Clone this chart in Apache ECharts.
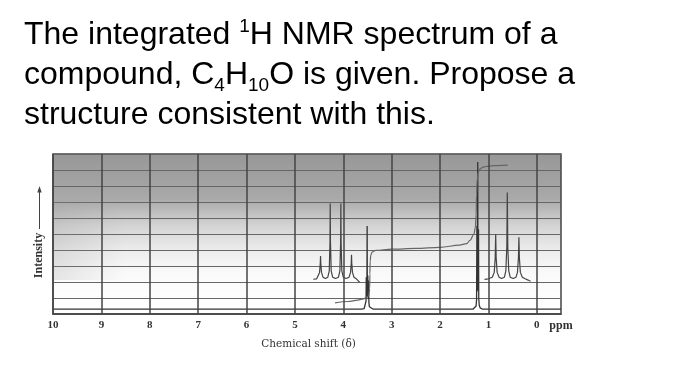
<!DOCTYPE html>
<html>
<head>
<meta charset="utf-8">
<script src="https://cdn.jsdelivr.net/npm/echarts@6/dist/echarts.min.js"></script>
<style>
  html, body { margin: 0; padding: 0; background: #ffffff; }
  #chart { width: 687px; height: 381px; }
</style>
</head>
<body>
<div id="chart"></div>
<script>
// ---- Data ----
// x axis ticks (ppm) and the unit label at the right end
var xTicks = [0, 1, 2, 3, 4, 5, 6, 7, 8, 9, 10];
var unitLabel = 'ppm';
var xAxisTitle = 'Chemical shift (δ)';
var yAxisTitle = 'Intensity';

// Main spectrum trace
var mainPpm = [10, 3.62, 3.57, 3.54, 3.53, 3.525, 3.52, 3.512, 3.507, 3.503,
               3.498, 3.493, 3.49, 3.487, 3.482, 3.478, 3.474, 3.47, 3.46, 3.44,
               3.38, 1.32, 1.28, 1.255, 1.245, 1.238, 1.232, 1.226, 1.221, 1.216,
               1.21, 1.205, 1.2, 1.19, 1.17, 1.12, -0.5];
var mainInt = [0.3, 0.3, 0.33, 0.45, 0.8, 2.3, 1.0, 1.2, 5.5, 1.3,
               1.2, 2.4, 1.3, 1.1, 2.1, 0.9, 1.2, 0.7, 0.45, 0.33,
               0.3, 0.3, 0.33, 0.5, 0.9, 5.5, 1.4, 1.5, 9.5, 1.5,
               1.4, 5.3, 1.0, 0.55, 0.38, 0.3, 0.3];

// Expanded quartet (inset)
var quartetPpm = [4.62, 4.55, 4.51, 4.49, 4.475, 4.47, 4.465, 4.45, 4.42, 4.37,
                  4.32, 4.29, 4.275, 4.27, 4.265, 4.25, 4.22, 4.16,
                  4.10, 4.07, 4.055, 4.05, 4.045, 4.03, 4.0, 3.94,
                  3.88, 3.85, 3.835, 3.83, 3.825, 3.81, 3.78, 3.73, 3.69, 3.66];
var quartetInt = [2.17, 2.2, 2.3, 2.6, 3.2, 3.63, 3.2, 2.6, 2.3, 2.22,
                  2.3, 2.7, 4.5, 6.9, 4.5, 2.7, 2.3, 2.22,
                  2.3, 2.7, 4.5, 6.9, 4.5, 2.7, 2.3, 2.22,
                  2.3, 2.6, 3.2, 3.7, 3.2, 2.6, 2.3, 2.2, 2.1, 1.98];

// Expanded triplet (inset)
var tripletPpm = [1.08, 1.0, 0.92, 0.88, 0.86, 0.85, 0.84, 0.82, 0.78, 0.73,
                  0.67, 0.64, 0.62, 0.61, 0.60, 0.58, 0.55, 0.49,
                  0.43, 0.40, 0.38, 0.37, 0.36, 0.34, 0.30, 0.24, 0.18, 0.13];
var tripletInt = [2.17, 2.2, 2.3, 2.6, 3.5, 4.98, 3.5, 2.6, 2.3, 2.22,
                  2.3, 2.7, 4.2, 7.6, 4.2, 2.7, 2.3, 2.22,
                  2.3, 2.6, 3.5, 4.79, 3.5, 2.6, 2.3, 2.2, 2.12, 2.05];

// Integration curve
var integralPpm = [4.17, 3.9, 3.7, 3.58, 3.53, 3.47, 3.455, 3.45, 3.445, 3.43,
                   3.40, 3.33, 3.0, 2.5, 2.0, 1.6, 1.45, 1.38, 1.3, 1.27,
                   1.255, 1.245, 1.235, 1.21, 1.18, 1.12, 1.05, 0.9, 0.6];
var integralVal = [0.7, 0.78, 0.87, 0.95, 1.02, 1.15, 1.6, 2.5, 3.3, 3.7,
                   3.88, 3.98, 4.05, 4.1, 4.17, 4.3, 4.4, 4.6, 5.0, 5.4,
                   6.2, 7.5, 8.3, 8.85, 9.05, 9.17, 9.22, 9.27, 9.3];

var referenceLabel = 'TMS';

function zip(a, b) { return a.map(function (v, i) { return [v, b[i]]; }); }

var chart = echarts.init(document.getElementById('chart'), null, { renderer: 'canvas' });

var option = {
  animation: false,
  backgroundColor: '#ffffff',
  title: {
    left: 24, top: 15, padding: 0,
    text: '{m|The integrated }{s|1}{m|H NMR spectrum of a}\n{m|compound, C}{b|4}{m|H}{b|10}{m|O is given. Propose a}\n{m|structure consistent with this.}',
    textStyle: {
      fontWeight: 'normal',
      rich: {
        m: { fontFamily: 'Liberation Sans', fontWeight: 'normal', fontSize: 32, lineHeight: 40, color: '#000' },
        s: { fontFamily: 'Liberation Sans', fontWeight: 'normal', fontSize: 19, lineHeight: 20, color: '#000', verticalAlign: 'top', padding: [2, 0, 0, 0] },
        b: { fontFamily: 'Liberation Sans', fontWeight: 'normal', fontSize: 19, lineHeight: 20, color: '#000', verticalAlign: 'bottom' }
      }
    }
  },
  grid: {
    left: 53, right: 126, top: 154, bottom: 67,
    show: true, borderColor: '#444', borderWidth: 1.5,
    backgroundColor: {
      type: 'linear', x: 0, y: 0, x2: 0, y2: 1,
      colorStops: [
        { offset: 0, color: '#979797' },
        { offset: 0.28, color: '#a9a9a9' },
        { offset: 0.45, color: '#d4d4d4' },
        { offset: 0.6, color: '#ececec' },
        { offset: 0.75, color: '#fafafa' },
        { offset: 1, color: '#ffffff' }
      ]
    }
  },
  xAxis: {
    type: 'value', min: -0.5, max: 10, interval: 0.5, inverse: true,
    axisLine: { show: true, lineStyle: { color: '#444', width: 1.5 } },
    axisTick: { show: false },
    splitLine: { show: false },
    axisLabel: {
      margin: 6, color: '#333', fontFamily: 'Liberation Serif', fontWeight: 'bold', fontSize: 11,
      showMinLabel: true, showMaxLabel: true,
      formatter: function (v) {
        if (Math.abs(v - (-0.5)) < 1e-6) return '{u|' + unitLabel + '}';
        for (var i = 0; i < xTicks.length; i++) {
          if (Math.abs(v - xTicks[i]) < 1e-6) return String(xTicks[i]);
        }
        return '';
      },
      rich: { u: { fontFamily: 'Liberation Serif', fontWeight: 'bold', fontSize: 12, color: '#333' } }
    },
    name: xAxisTitle, nameLocation: 'middle', nameGap: 25,
    nameTextStyle: { fontFamily: 'DejaVu Serif', fontSize: 10.5, color: '#333', padding: [0, 0, 0, 3] }
  },
  yAxis: {
    type: 'value', min: 0, max: 10, interval: 1,
    axisLine: { show: false }, axisTick: { show: false }, axisLabel: { show: false },
    splitLine: { show: true, lineStyle: { color: '#666', width: 1 } }
  },
  graphic: [
    {
      type: 'rect', z: 1, silent: true,
      shape: { x: 54, y: 200, width: 70, height: 80 },
      style: {
        fill: {
          type: 'linear', x: 0, y: 0, x2: 1, y2: 0,
          colorStops: [
            { offset: 0, color: 'rgba(150,150,150,0.22)' },
            { offset: 1, color: 'rgba(150,150,150,0)' }
          ]
        }
      }
    },
    {
      type: 'text', x: 39, y: 255.5, rotation: Math.PI / 2,
      style: { text: yAxisTitle, font: 'bold 12px "Liberation Serif"', fill: '#333', align: 'center', verticalAlign: 'middle' }
    },
    { type: 'line', shape: { x1: 39.5, y1: 229, x2: 39.5, y2: 191 }, style: { stroke: '#444', lineWidth: 1 } },
    { type: 'polygon', shape: { points: [[39.5, 186], [37.3, 192.5], [41.7, 192.5]] }, style: { fill: '#444' } }
  ],
  series: [
    {
      name: 'spectrum', type: 'line', data: zip(mainPpm, mainInt),
      showSymbol: false, symbol: 'none', silent: true,
      lineStyle: { color: '#333', width: 1.3 },
      markLine: {
        silent: true, symbol: ['none', 'none'], label: { show: false },
        lineStyle: { color: '#444', width: 1.5, type: 'solid' },
        data: xTicks.map(function (v) { return { xAxis: v }; })
      },
      markPoint: {
        silent: true, symbol: 'none',
        label: { show: true, formatter: referenceLabel, fontFamily: 'Liberation Serif', fontSize: 12, color: '#333' },
        data: [{ coord: [0.28, 1.3] }]
      }
    },
    {
      name: 'quartet', type: 'line', data: zip(quartetPpm, quartetInt),
      showSymbol: false, symbol: 'none', silent: true,
      lineStyle: { color: '#444', width: 1.2 }
    },
    {
      name: 'triplet', type: 'line', data: zip(tripletPpm, tripletInt),
      showSymbol: false, symbol: 'none', silent: true,
      lineStyle: { color: '#444', width: 1.2 }
    },
    {
      name: 'integral', type: 'line', data: zip(integralPpm, integralVal),
      showSymbol: false, symbol: 'none', silent: true, smooth: 0.35, smoothMonotone: 'x',
      lineStyle: { color: '#666', width: 1.2 }
    }
  ]
};
chart.setOption(option);
</script>
</body>
</html>
